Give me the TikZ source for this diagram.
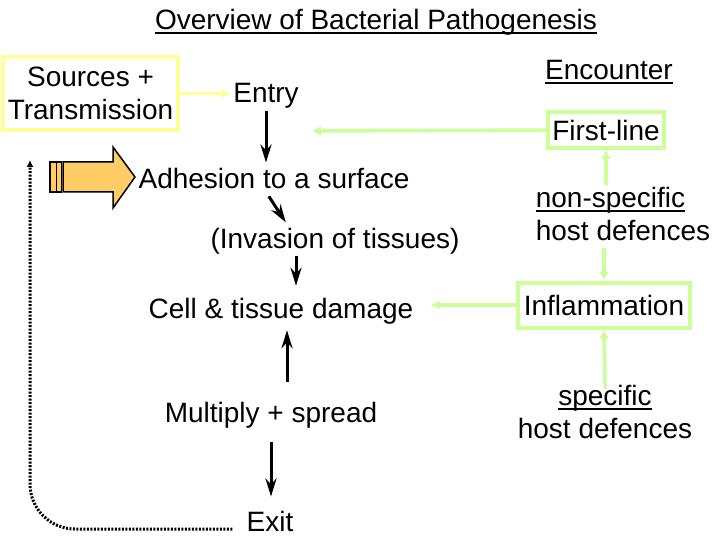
\documentclass[tikz,border=0pt]{standalone}
\usepackage{fontspec}
\setmainfont{Liberation Sans}
\usetikzlibrary{arrows.meta}
\definecolor{paleyellow}{HTML}{FFFF99}
\definecolor{palegreen}{HTML}{CCFF99}
\definecolor{blockorange}{HTML}{FFCC66}
\newcommand{\ulword}[1]{\setbox0\hbox{#1}\rlap{\rule[-4.5pt]{\wd0}{2.2pt}}\box0}

\begin{document}
\begin{tikzpicture}[x=1pt,y=-1pt,
  every node/.style={font=\fontsize{28}{33}\selectfont,inner sep=2pt},
  blk/.style={line width=3pt,-{Stealth[length=18pt,width=11pt]}},
  grn/.style={draw=palegreen,line width=3.5pt,-{Latex[length=9pt,width=10pt]}},
  ylw/.style={draw=paleyellow,line width=3pt,-{Latex[length=9pt,width=9pt]}},
  ybox/.style={draw=paleyellow,line width=3.5pt,align=center},
  gbox/.style={draw=palegreen,line width=4pt,inner xsep=4pt},
  orng/.style={fill=blockorange,draw=black,line width=1.5pt,line join=miter}]
  \useasboundingbox (0,0) rectangle (720,540);

  \node (title) at (376,22) {\ulword{Overview of Bacterial Pathogenesis}};
  \node[ybox,minimum width=175pt,minimum height=73pt] (src) at (90.5,93.5) {Sources +\\Transmission};
  \node (entry) at (266,96) {Entry};
  \node (adh) at (274,178) {Adhesion to a surface};
  \node (inv) at (335,241) {(Invasion of tissues)};
  \node (cell) at (281,311) {Cell \& tissue damage};
  \node (mult) at (271,415) {Multiply + spread};
  \node (exit) at (270,521) {Exit};

  \node (enc) at (609,72) {\ulword{Encounter}};
  \node[gbox,minimum width=116pt,minimum height=36pt] (first) at (606,130) {First-line};
  \node[align=left] (nonspec) at (623,214) {\ulword{non-specific}\\host defences};
  \node[gbox,minimum width=172pt,minimum height=45pt] (infl) at (604,305) {Inflammation};
  \node[align=center] (spec) at (605,412) {\ulword{specific}\\host defences};

  \coordinate (hit) at (312,131);
  \coordinate (loop) at (30,160);

  \draw[orng] (63,162) -- (113,162) -- (113,147) -- (135,177) -- (113,208) -- (113,192) -- (63,192) -- cycle;
  \draw[orng] (50,162) rectangle (56.5,192);
  \draw[orng] (56.5,162) rectangle (61.5,192);

  \draw[ylw] (src.east) -- (src.east -| entry.west);
  \draw[blk,shorten >=3pt] (entry.south) -- (entry.south |- adh.north);
  \draw[blk,shorten <=7pt,shorten >=4pt] ([xshift=-9pt]adh.south) -- ([xshift=-47pt]inv.north);
  \draw[blk,shorten >=10pt] ([xshift=-39pt]inv.south) -- ([xshift=15pt]cell.north);
  \draw[blk,shorten <=18pt,shorten >=4pt] ([xshift=16pt]mult.north) -- ([xshift=6pt]cell.south);
  \draw[blk,shorten <=12pt,shorten >=12pt] (mult.south) -- (mult.south |- exit.north);
  \draw[line width=3pt,dash pattern=on 2pt off 1.5pt,rounded corners=45pt,-{Latex[length=7pt,width=7pt]},shorten <=12pt]
    ([yshift=-8pt]exit.west) -| (loop);

  \draw[grn] (first.west) -- (hit);
  \draw[grn] (first.south |- nonspec.north) -- (first.south);
  \draw[grn,shorten <=5pt] (infl.north |- nonspec.south) -- (infl.north);
  \draw[grn,shorten <=-6pt] (spec.north) -- (infl.south);
  \draw[grn,shorten >=15pt] (infl.west) -- (infl.west -| cell.east);
\end{tikzpicture}
\end{document}
